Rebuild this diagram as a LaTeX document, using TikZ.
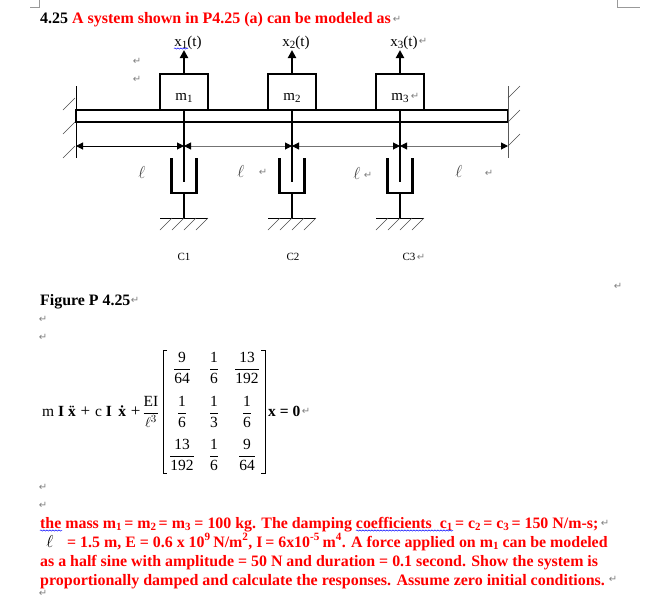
\documentclass[tikz,border=0pt]{standalone}
\usepackage{amsmath}
\usepackage{fontspec}
\setmainfont{Liberation Serif}
\newfontfamily\markfont{DejaVu Sans}
\usetikzlibrary{arrows.meta, decorations.pathmorphing}
\newcommand{\lo}[1]{\raisebox{-2pt}{\fontsize{11}{11}\selectfont #1}}
\newcommand{\redline}[1]{\textcolor{red}{#1}}
\newcommand{\plus}{\kern1pt{\fontsize{17}{18}\selectfont +}}
\newcommand{\ratio}[2]{$\dfrac{\text{#1}\rule[-1.5pt]{0pt}{11pt}}{\text{#2}\rule{0pt}{12pt}}$}
\tikzset{
    headline/.style = {anchor=base west, inner sep=0pt, font=\fontsize{15.9}{18}\selectfont\bfseries},
    headwide/.style = {headline, font=\fontsize{15.98}{18}\selectfont\bfseries},
    massbox/.style = {draw, line width=1.5pt, minimum width=48pt, minimum height=36pt, inner sep=0pt, font=\fontsize{15}{16}\selectfont},
    sigtext/.style = {anchor=base, inner sep=0pt, font=\fontsize{15}{16}\selectfont},
    rod/.style = {line width=2.6pt},
    pot/.style = {line width=2.2pt},
    thin hatch/.style = {line width=0.6pt, black!70},
    wall/.style = {line width=1pt, black!65},
    dim/.style = {line width=1pt, black!55, {Triangle[width=7pt,length=7pt,black]}-{Triangle[width=7pt,length=7pt,black]}},
    lenlabel/.style = {inner sep=0pt, text=black!70, font=\fontsize{18}{18}\selectfont},
    retmark/.style = {inner sep=0pt, text=black!50, font=\markfont\fontsize{10}{10}\selectfont},
    squiggle/.style = {blue, line width=0.5pt, decorate, decoration={snake, amplitude=0.6pt, segment length=3pt}},
    entry/.style = {inner sep=0pt, font=\fontsize{15.5}{18}\selectfont}
}

\begin{document}
\begin{tikzpicture}[x=1pt, y=-1pt]
    \useasboundingbox (0,0) rectangle (654,598);

    % page corners
    \draw[black!40, line width=0.7pt] (30,7) -- (39,7) -- (39,0);
    \draw[black!40, line width=0.7pt] (617,0) -- (617,7) -- (640,7);

    % headings
    \node[headwide] (title) at (40,23) {4.25 \textcolor{red}{A system shown in P4.25 (a) can be modeled as}};
    \node[headline] (figname) at (40,305) {Figure P 4.25};

    % beam and walls
    \node[draw, line width=1.7pt, minimum width=432pt, minimum height=12pt, inner sep=0pt] (beam) at (292,116) {};
    \coordinate (wl) at (76,146);
    \coordinate (wr) at (508,146);
    \draw[wall, black] (76,86) -- (76,158);
    \draw[wall] (508,86) -- (508,158);
    \foreach \y in {110,134,158}
        \draw[thin hatch] (75,\y-12) -- (63,\y);
    \foreach \y in {98,122,146}
        \draw[thin hatch] (508,\y) -- (520,\y-12);

    % masses, rods, dampers
    \foreach \i/\x/\cx in {1/184/184,2/292/293,3/400/409} {
        \node[massbox] (m\i) at (\x,92) {\smash{\raisebox{-8pt}{m\lo{\i}}}};
        \node[sigtext] (x\i) at (\x+4,46.5) {x\lo{\i}(t)};
        \coordinate (tip\i) at (\x,50);
        \coordinate (end\i) at (\x,182);
        \coordinate (d\i) at (\x,146);
        \coordinate (g\i) at (\x,218);
        \coordinate (b\i) at (\x,193);
        \draw[rod, -{Triangle[width=8pt,length=8pt]}] (m\i.north) -- (tip\i);
        \draw[rod] (m\i.south) -- (end\i);
        \draw[pot] (\x-12.5,158) -- (\x-12.5,193) -- (\x+12.5,193) -- (\x+12.5,158);
        \draw[pot] (b\i) -- (g\i);
        \draw[line width=0.9pt] (\x-24,218) -- (\x+24,218);
        \foreach \k in {-12,0,12,24}
            \draw[thin hatch] (\x+\k,218) -- (\x+\k-12,230);
        \node[anchor=base, inner sep=0pt, font=\fontsize{11}{12}\selectfont] (c\i) at (\cx,260) {C\i};
    }

    % length dimensions
    \draw[dim, black] (wl) -- (d1);
    \draw[dim] (d1) -- (d2);
    \draw[dim] (d2) -- (d3);
    \draw[dim] (d3) -- (wr);
    \node[lenlabel] (l1) at (142,172) {$\ell$};
    \node[lenlabel] (l2) at (241,171) {$\ell$};
    \node[lenlabel] (l3) at (357,173) {$\ell$};
    \node[lenlabel] (l4) at (459,171) {$\ell$};

    % equation
    \node[entry, anchor=base west] (lhs) at (42,416) {m \textbf{I} \textbf{\"x} \plus{} \kern1pt c \textbf{I} \,\textbf{\.x} \plus};
    \node[entry] (coef) at (151,412) {\ratio{EI}{$\ell^3$}};
    \foreach \i/\x/\y/\n/\d in {11/182/368/9/64, 12/214/368/1/6, 13/247/368/13/192,
                                21/182/412/1/6, 22/214/412/1/3, 23/247/412/1/6,
                                31/182/455/13/192, 32/214/455/1/6, 33/247/455/9/64}
        \node[entry] (k\i) at (\x,\y) {\ratio{\n}{\d}};
    \draw[line width=0.7pt] (167,350) -- (163,350) -- (163,473) -- (167,473);
    \draw[line width=0.7pt] (261,350) -- (265,350) -- (265,473) -- (261,473);
    \node[entry, anchor=base west] (rhs) at (268,416) {\textbf{x = 0}};

    % problem statement
    \node[headline] (p1) at (40,528) {\redline{the mass m\lo{1}\,= m\lo{2}\,= m\lo{3} = 100 kg. The damping coefficients\ \ c\lo{1}\,= c\lo{2}\,= c\lo{3}\,= 150 N/m-s;}};
    \node[inner sep=0pt, anchor=base] (p2a) at (50,547) {\fontsize{16.5}{17}\selectfont$\ell$};
    \node[headline] (p2) at (67,547) {\redline{= 1.5 m, E = 0.6 x 10\textsuperscript{9}\,N/m\textsuperscript{2}, I\,= 6x10\textsuperscript{-5}\,m\textsuperscript{4}. A force applied on m\lo{1} can be modeled}};
    \node[headline] (p3) at (40,566) {\redline{as a half sine with amplitude = 50 N and duration = 0.1 second. Show the system is}};
    \node[headwide] (p4) at (40,585) {\redline{proportionally damped and calculate the responses. Assume zero initial conditions.}};

    % spelling marks
    \draw[squiggle] (174,48.5) -- (188,48.5);
    \draw[squiggle] (40,530.5) -- (62,530.5);
    \draw[squiggle] (356,530.5) -- (453,530.5);

    % paragraph marks
    \foreach \x/\y in {137/61, 137/79, 397/19, 423/41, 415/96, 263/172, 368/175, 489/173, 421/257,
                       618/286, 135/300, 43/319, 43/337, 306/411, 43/487, 43/505, 605/523, 613/579, 43/593}
        \node[retmark] at (\x,\y) {↵};
\end{tikzpicture}
\end{document}
